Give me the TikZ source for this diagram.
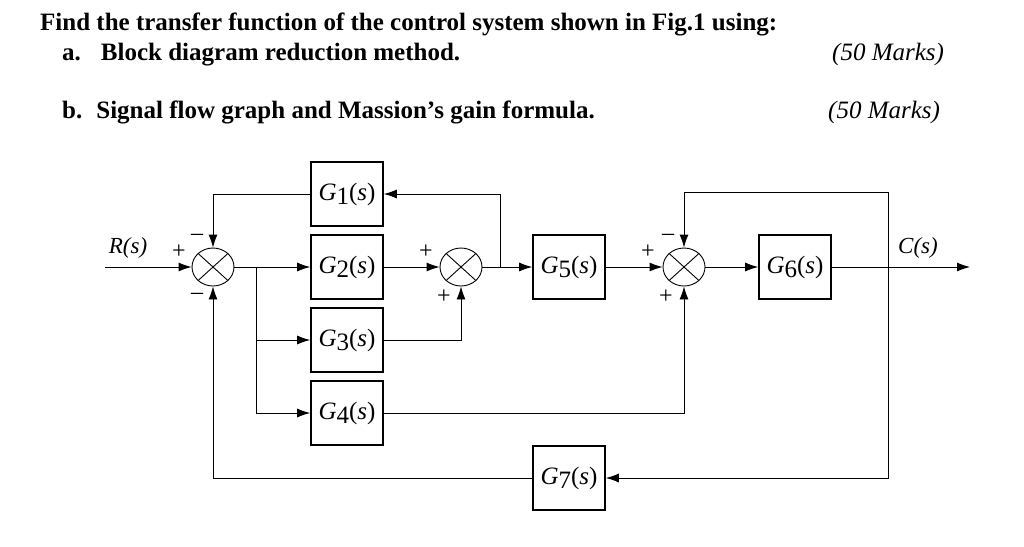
\documentclass[tikz,border=0pt]{standalone}
\usepackage{fontspec}
\setmainfont{Liberation Serif}
\usetikzlibrary{arrows.meta,shapes.geometric}
\newcommand{\gfn}[1]{{\itshape G}\raisebox{-4pt}{#1}(\textit{s})}
\begin{document}
\begin{tikzpicture}[x=1pt,y=-1pt,
  blk/.style={draw,line width=1.6pt,minimum width=72pt,minimum height=64pt,inner sep=0pt,font=\fontsize{25}{27}\selectfont},
  sum/.style={draw,ellipse,minimum width=42pt,minimum height=38pt,inner sep=0pt,line width=0.9pt},
  ln/.style={line width=0.9pt},
  ar/.style={ln,-{Latex[length=13pt,width=9pt]}},
  sg/.style={font=\fontsize{24}{24}\selectfont,inner sep=0pt},
  tt/.style={anchor=base west,font=\bfseries\fontsize{25}{28}\selectfont,inner sep=0pt},
  mk/.style={anchor=base west,font=\itshape\fontsize{25}{28}\selectfont,inner sep=0pt}]
\useasboundingbox (0,0) rectangle (1024,546);
\node[tt] (t1) at (40,30) {Find the transfer function of the control system shown in Fig.1 using:};
\node[tt] (t2) at (62,60) {a.\hspace{20pt}Block diagram reduction method.};
\node[mk] (m1) at (832,60) {(50 Marks)};
\node[tt] (t3) at (62,118) {b.\hspace{14pt}Signal flow graph and Massion’s gain formula.};
\node[mk] (m2) at (828,118) {(50 Marks)};
% blocks
\node[blk] (g1) at (347,194) {\gfn{1}};
\node[blk] (g2) at (347,267) {\gfn{2}};
\node[blk] (g3) at (347,340) {\gfn{3}};
\node[blk] (g4) at (347,413) {\gfn{4}};
\node[blk] (g5) at (569,267) {\gfn{5}};
\node[blk] (g6) at (795,267) {\gfn{6}};
\node[blk] (g7) at (569,478) {\gfn{7}};
\node[sum] (s1) at (213,267) {};
\node[sum] (s2) at (461,267) {};
\node[sum] (s3) at (684,267) {};
\foreach \s in {s1,s2,s3}{
 \draw[ln] (\s.north west) -- (\s.south east) (\s.north east) -- (\s.south west);}
\coordinate (rin) at (105,267);
\coordinate (cout) at (970,267);
\coordinate (b1) at (256,267);
\coordinate (b2) at (500,267);
\coordinate (b3) at (888,267);
% main path
\draw[ar] (rin) -- (s1.west);
\draw[ar] (s1.east) -- (g2.west);
\draw[ar] (g2.east) -- (s2.west);
\draw[ar] (s2.east) -- (g5.west);
\draw[ar] (g5.east) -- (s3.west);
\draw[ar] (s3.east) -- (g6.west);
\draw[ar] (g6.east) -- (cout);
% branches
\draw[ar] (b1) |- (g3.west);
\draw[ar] (b1) |- (g4.west);
\draw[ar] (g3.east) -| (s2.south);
\draw[ar] (g4.east) -| (s3.south);
\draw[ar] (b2) |- (g1.east);
\draw[ar] (g1.west) -| (s1.north);
\draw[ar] (b3) |- (s3.north|-0,192) -- (s3.north);
\draw[ar] (b3) |- (g7.east);
\draw[ar] (g7.west) -| (s1.south);
% labels
\node[font=\itshape\fontsize{23}{23}\selectfont] (rl) at (128,248) {R(s)};
\node[font=\itshape\fontsize{23}{23}\selectfont] (cl) at (918,248) {C(s)};
\node[sg] (p1) at (179,252) {+};
\node[sg] (n1) at (197,237) {–};
\node[sg] (n2) at (197,296) {–};
\node[sg] (p2) at (426,252) {+};
\node[sg] (p3) at (444,297) {+};
\node[sg] (p4) at (648,252) {+};
\node[sg] (n3) at (668,237) {–};
\node[sg] (p5) at (666,297) {+};
\end{tikzpicture}
\end{document}
